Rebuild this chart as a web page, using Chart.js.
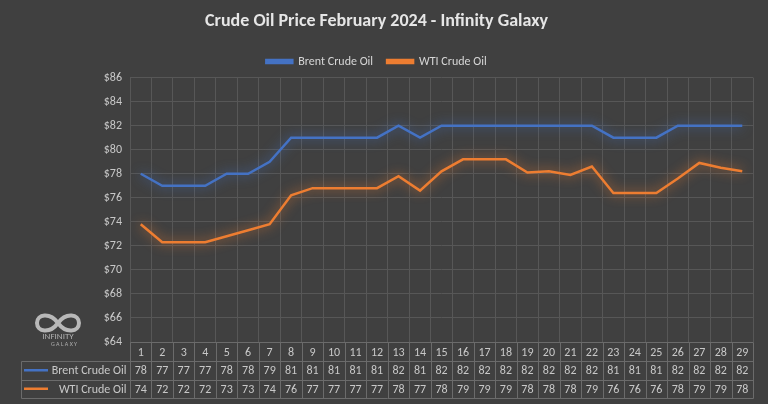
<!DOCTYPE html>
<html>
<head>
<meta charset="utf-8">
<script src="https://cdn.jsdelivr.net/npm/chart.js@4.4.1/dist/chart.umd.min.js"></script>
<style>
  html, body { margin: 0; padding: 0; background: #404040; }
  #wrap { width: 768px; height: 404px; }
</style>
</head>
<body>
<div id="wrap"><canvas id="oilChart" width="768" height="404"></canvas></div>
<script>
// Crude oil prices, February 2024
const days = ['1','2','3','4','5','6','7','8','9','10','11','12','13','14','15',
  '16','17','18','19','20','21','22','23','24','25','26','27','28','29'];
const brentPrices = [78, 77, 77, 77, 78, 78, 79, 81, 81, 81, 81, 81, 82, 81, 82,
  82, 82, 82, 82, 82, 82, 82, 81, 81, 81, 82, 82, 82, 82];
const wtiPrices = [73.8, 72.3, 72.3, 72.3, 72.8, 73.3, 73.8, 76.2, 76.8, 76.8, 76.8, 76.8, 77.8, 76.6, 78.2,
  79.2, 79.2, 79.2, 78.1, 78.2, 77.9, 78.6, 76.4, 76.4, 76.4, 77.6, 78.9, 78.5, 78.2];
const seriesNames = ['Brent Crude Oil', 'WTI Crude Oil'];

const FONT = "Carlito, 'Liberation Sans Narrow', 'Open Sans', sans-serif";
const BLUE = '#4472c4';
const ORANGE = '#ed7d31';
const GRID = '#575757';
const TEXT = '#c8c8c8';

Chart.defaults.font.family = FONT;

// soft glow under each line, like the Excel effect
const glowPlugin = {
  id: 'glow',
  beforeDatasetDraw(chart, args) {
    const ctx = chart.ctx;
    ctx.save();
    ctx.shadowColor = args.index === 0 ? 'rgba(68,114,196,0.9)' : 'rgba(237,125,49,0.9)';
    ctx.shadowBlur = 12;
  },
  afterDatasetDraw(chart) {
    chart.ctx.restore();
  }
};

// data table under the plot + logo
const tablePlugin = {
  id: 'dataTable',
  afterDraw(chart) {
    const { ctx, chartArea, scales } = chart;
    const x = scales.x;
    const rowH = 18.5;
    const top = Math.round(chartArea.bottom) + 0.5;
    const left = Math.round(chartArea.left) + 0.5;
    const right = Math.round(chartArea.right) + 0.5;
    const headLeft = 21.5;
    const colW = (chartArea.right - chartArea.left) / days.length;

    ctx.save();
    ctx.strokeStyle = '#6b6b6b';
    ctx.lineWidth = 1;

    // horizontal rules
    ctx.beginPath();
    ctx.moveTo(left, top); ctx.lineTo(right, top);
    for (let r = 1; r <= 3; r++) {
      const yy = Math.round(top + rowH * r) + 0.5;
      ctx.moveTo(headLeft, yy);
      ctx.lineTo(right, yy);
    }
    // vertical rules
    for (let i = 0; i <= days.length; i++) {
      const xx = Math.round(x.getPixelForValue(i) - colW / 2) + 0.5;
      ctx.moveTo(xx, top);
      ctx.lineTo(xx, Math.round(top + rowH * 3) + 0.5);
    }
    ctx.moveTo(headLeft, Math.round(top + rowH) + 0.5);
    ctx.lineTo(headLeft, Math.round(top + rowH * 3) + 0.5);
    ctx.stroke();

    ctx.font = '12px ' + FONT;
    ctx.fillStyle = TEXT;
    ctx.textAlign = 'center';
    ctx.textBaseline = 'middle';
    const rows = [days, brentPrices.map(v => v.toFixed(0)), wtiPrices.map(v => v.toFixed(0))];
    rows.forEach((row, r) => {
      const yy = top + rowH * r + rowH / 2 + 1;
      row.forEach((val, i) => {
        ctx.fillText(val, x.getPixelForValue(i), yy);
      });
    });

    // row headers with legend keys
    const keyColors = [BLUE, ORANGE];
    seriesNames.forEach((name, k) => {
      const yy = top + rowH * (k + 1) + rowH / 2;
      ctx.strokeStyle = keyColors[k];
      ctx.lineWidth = 2.5;
      ctx.beginPath();
      ctx.moveTo(24, yy);
      ctx.lineTo(48, yy);
      ctx.stroke();
      ctx.fillStyle = TEXT;
      ctx.textAlign = 'right';
      ctx.fillText(name, left - 4, yy + 1);
    });

    // Infinity Galaxy logo
    ctx.strokeStyle = '#b8b8b8';
    ctx.lineWidth = 4;
    ctx.beginPath();
    ctx.moveTo(58, 323);
    ctx.bezierCurveTo(66, 312, 79, 314, 79, 323);
    ctx.bezierCurveTo(79, 332, 66, 334, 58, 323);
    ctx.bezierCurveTo(50, 312, 37, 314, 37, 323);
    ctx.bezierCurveTo(37, 332, 50, 334, 58, 323);
    ctx.stroke();
    ctx.fillStyle = '#b0b0b0';
    ctx.textAlign = 'center';
    ctx.font = '9px ' + FONT;
    ctx.fillText('INFINITY', 58, 337);
    ctx.font = '6px ' + FONT;
    ctx.fillText('G A L A X Y', 64, 344);
    ctx.restore();
  }
};

new Chart(document.getElementById('oilChart'), {
  type: 'line',
  data: {
    labels: days,
    datasets: [{
      label: seriesNames[0],
      data: brentPrices,
      borderColor: BLUE,
      backgroundColor: BLUE,
      borderWidth: 2.5,
      pointRadius: 0,
      tension: 0,
      fill: false
    }, {
      label: seriesNames[1],
      data: wtiPrices,
      borderColor: ORANGE,
      backgroundColor: ORANGE,
      borderWidth: 2.5,
      pointRadius: 0,
      tension: 0,
      fill: false
    }]
  },
  options: {
    responsive: false,
    animation: false,
    devicePixelRatio: 1,
    layout: { padding: { left: 0, right: 15, top: 0, bottom: 62 } },
    scales: {
      x: {
        offset: true,
        grid: { offset: true, color: GRID, drawTicks: false },
        border: { display: false },
        ticks: { display: false }
      },
      y: {
        min: 64,
        max: 86,
        ticks: {
          stepSize: 2,
          color: TEXT,
          font: { size: 12 },
          padding: 8,
          callback: v => '$' + v
        },
        grid: { color: GRID, drawTicks: false },
        border: { display: false },
        afterFit(scale) { scale.width = 130; }
      }
    },
    plugins: {
      title: {
        display: true,
        text: 'Crude Oil Price February 2024 - Infinity Galaxy',
        color: '#e6e6e6',
        font: { size: 18, weight: 'bold' },
        padding: { top: 11, bottom: 9 }
      },
      legend: {
        labels: {
          color: '#d6d6d6',
          font: { size: 12 },
          boxWidth: 26,
          boxHeight: 3,
          padding: 14
        }
      },
      tooltip: { enabled: false }
    }
  },
  plugins: [glowPlugin, tablePlugin]
});
</script>
</body>
</html>
